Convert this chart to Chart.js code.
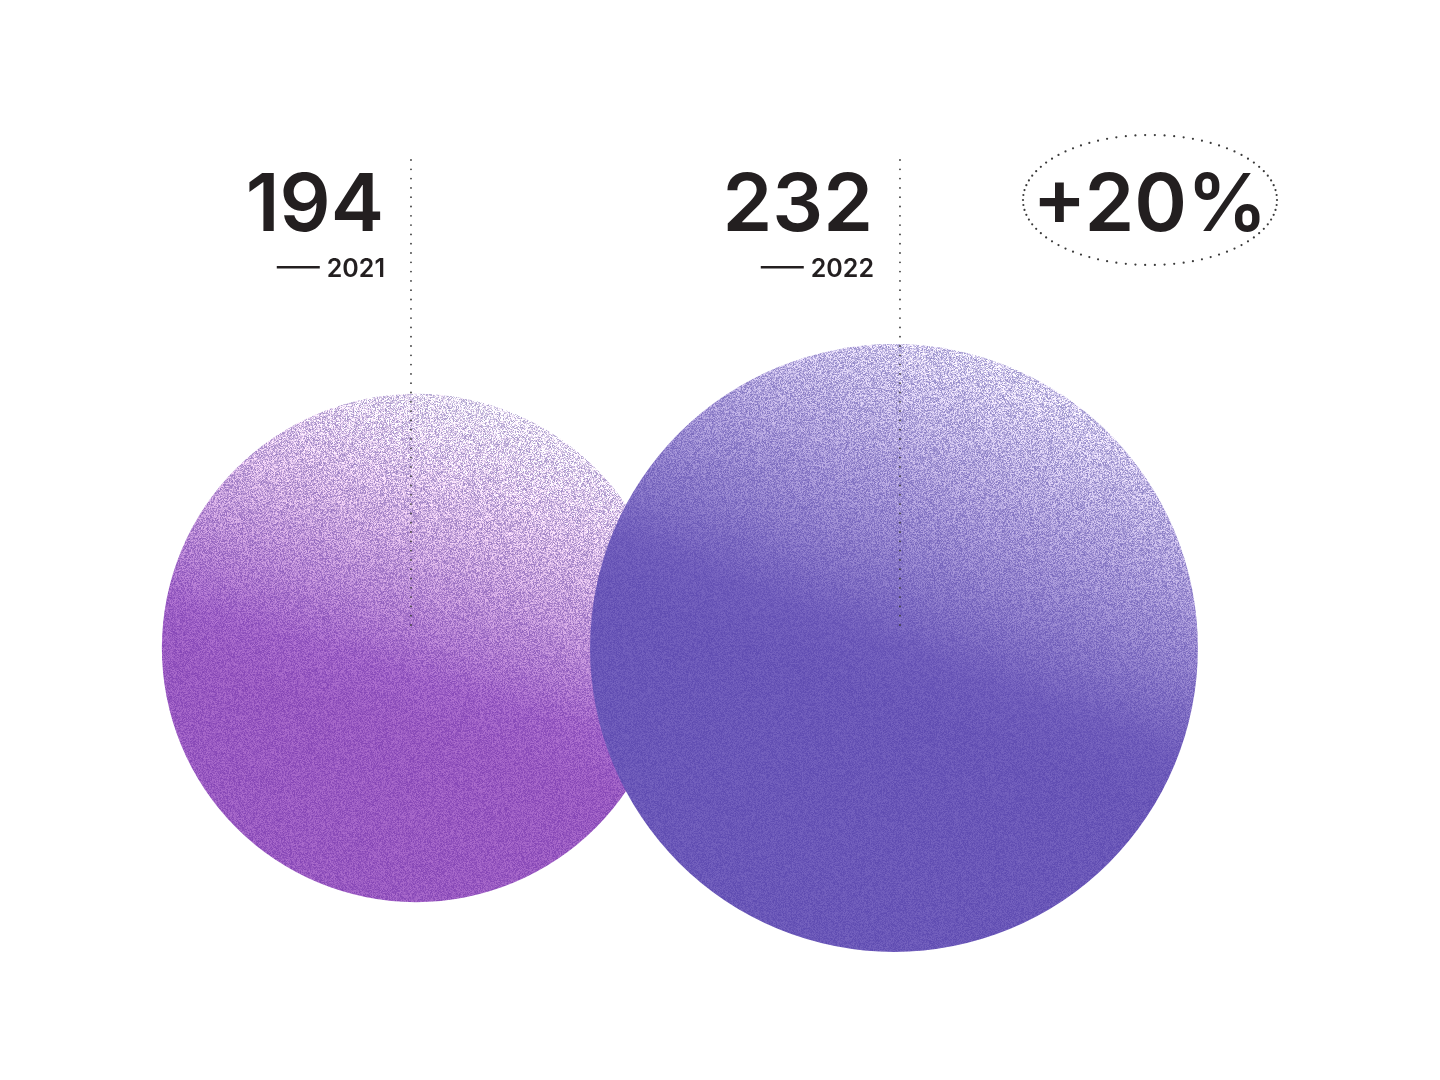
<!DOCTYPE html>
<html>
<head>
<meta charset="utf-8">
<script src="https://cdn.jsdelivr.net/npm/chart.js@4.4.1/dist/chart.umd.min.js"></script>
<style>
  html, body { margin: 0; padding: 0; background: #fff; }
  #wrap { width: 1440px; height: 1080px; }
</style>
</head>
<body>
<div id="wrap"><canvas id="c" width="1440" height="1080"></canvas></div>
<script>
// data
var years = ["2021", "2022"];
var totals = [194, 232];
var growthLabel = "+20%";

// look
var R_PER_UNIT = 1.31;      // px of radius per unit of value
var guideShift = [-5, 6];   // dotted guides sit a touch off the bubble centres
var ink = "#231f20";
var fills = [
    { stops: ["#f0e7f6", "#c8a6dd", "#9d60c6", "#9859c1"], from: [0.3, -1.0], to: [-0.1, 0.3] },
    { stops: ["#dcd5f1", "#a293d5", "#6f5cbb", "#6a57b8"], from: [0.35, -1.0], to: [-0.1, 0.15] }
];

function bubbleFill(ctx) {
    var chart = ctx.chart;
    var f = fills[ctx.dataIndex];
    if (!chart.chartArea || ctx.raw == null) return f.stops[3];
    var cx = chart.scales.x.getPixelForValue(ctx.raw.x);
    var cy = chart.scales.y.getPixelForValue(ctx.raw.y);
    var r = ctx.raw.r;
    var g = chart.ctx.createLinearGradient(cx + f.from[0] * r, cy + f.from[1] * r,
                                           cx + f.to[0] * r, cy + f.to[1] * r);
    g.addColorStop(0, f.stops[0]);
    g.addColorStop(0.45, f.stops[1]);
    g.addColorStop(0.85, f.stops[2]);
    g.addColorStop(1, f.stops[3]);
    return g;
}

// film grain on the bubbles (only touches painted pixels)
function hash(x, y) {
    var v = Math.sin(x * 12.9898 + y * 78.233) * 43758.5453;
    return (v - Math.floor(v)) * 2 - 1;
}
var grain = {
    id: "grain",
    afterDatasetsDraw: function(chart) {
        var c = chart.ctx, w = chart.width, h = chart.height;
        var img = c.getImageData(0, 0, w, h), d = img.data;
        for (var y = 0; y < h; y++) {
            for (var x = 0; x < w; x++) {
                var p = (y * w + x) * 4;
                if (d[p + 3] === 0) continue;
                var lum = (d[p] + d[p + 1] + d[p + 2]) / 3;
                var t = Math.max(0, Math.min(1, (lum - 130) / 100));
                var amp = 12 + 55 * t;
                var n = hash(x, y) * amp;
                d[p] = Math.max(0, Math.min(255, d[p] + n));
                d[p + 1] = Math.max(0, Math.min(255, d[p + 1] + n));
                d[p + 2] = Math.max(0, Math.min(255, d[p + 2] + n * 0.6));
            }
        }
        c.putImageData(img, 0, 0);
    }
};

var annotate = {
    id: "annotate",
    afterDatasetsDraw: function(chart) {
        var c = chart.ctx;
        var meta = chart.getDatasetMeta(0);
        c.save();
        meta.data.forEach(function(pt, i) {
            var x = pt.x + guideShift[i];
            // dotted guide
            c.strokeStyle = "#3a3a3a";
            c.lineWidth = 1.8;
            c.lineCap = "round";
            c.setLineDash([0, 9.3]);
            c.beginPath();
            c.moveTo(x, 160);
            c.lineTo(x, 628);
            c.stroke();
            c.setLineDash([]);
            // value + year
            c.fillStyle = ink;
            c.textAlign = "right";
            c.textBaseline = "alphabetic";
            c.font = "600 80px Inter";
            c.fillText(String(totals[i]), x - 27, 231);
            c.font = "600 25px Inter";
            c.fillText(years[i], x - 26, 277);
            var w = c.measureText(years[i]).width;
            c.fillRect(x - 26 - w - 50, 266, 43, 2.5);
        });
        // growth badge
        var gx = 1150, gy = 200, rx = 127, ry = 65;
        c.fillStyle = ink;
        c.textAlign = "center";
        c.font = "600 80px Inter";
        c.fillText(growthLabel, gx, 231);
        c.fillStyle = "#3a3a3a";
        var n = 82;
        for (var k = 0; k < n; k++) {
            var a = k / n * Math.PI * 2;
            c.beginPath();
            c.arc(gx + rx * Math.cos(a), gy + ry * Math.sin(a), 1.1, 0, Math.PI * 2);
            c.fill();
        }
        c.restore();
    }
};

new Chart(document.getElementById("c"), {
    type: "bubble",
    data: {
        datasets: [{
            data: totals.map(function(v, i) { return { x: i, y: 0, r: v * R_PER_UNIT }; }),
            backgroundColor: bubbleFill,
            borderWidth: 0,
            hoverBorderWidth: 0,
            clip: false
        }]
    },
    options: {
        responsive: false,
        devicePixelRatio: 1,
        animation: false,
        events: [],
        layout: { padding: 0, autoPadding: false },
        plugins: { legend: { display: false }, tooltip: { enabled: false } },
        scales: {
            x: { type: "linear", display: false, min: -0.8703, max: 2.1423 },
            y: { type: "linear", display: false, min: -2, max: 3 }
        }
    },
    plugins: [grain, annotate]
});
</script>
</body>
</html>
